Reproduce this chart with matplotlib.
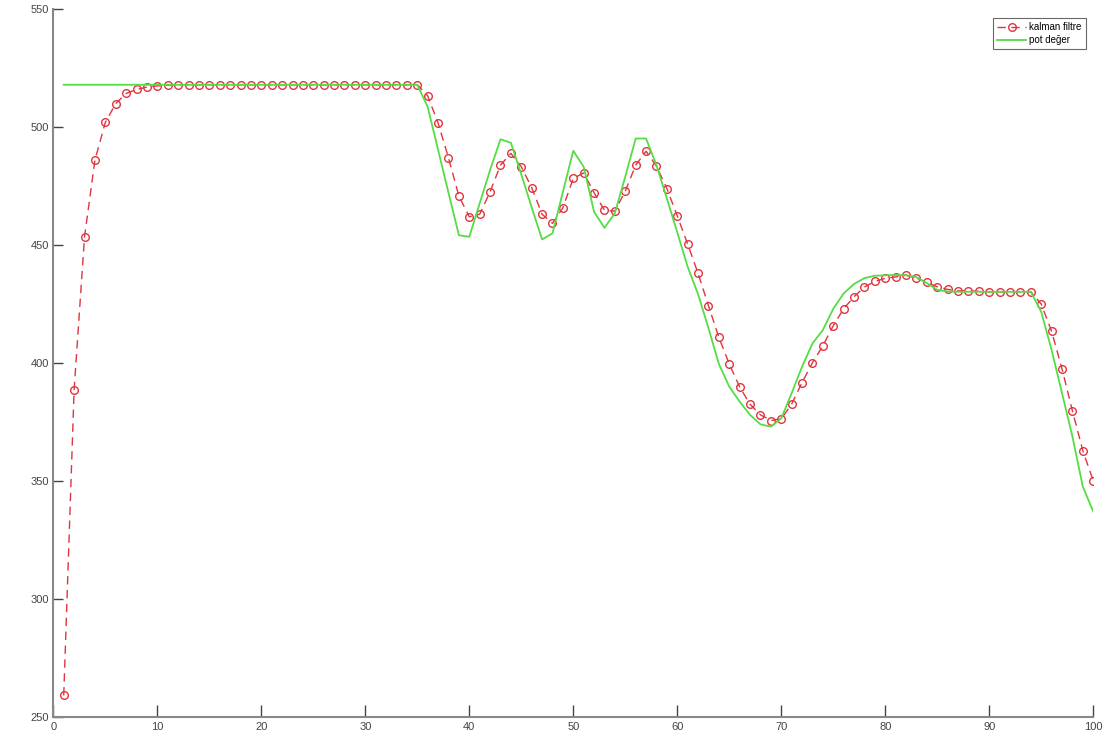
import matplotlib
matplotlib.use("Agg")
import matplotlib.pyplot as plt
import numpy as np

plt.rcParams['font.family'] = ['Liberation Sans', 'DejaVu Sans']

x_vals = list(range(1, 101))

kalman_filtre = [
    259.0, 388.6, 453.5, 486.0, 502.0, 510.0, 514.3, 516.0, 517.0, 517.5,
    517.8, 518.0, 518.0, 518.0, 518.0, 518.0, 518.0, 518.0, 518.0, 518.0,
    518.0, 518.0, 518.0, 518.0, 518.0, 518.0, 518.0, 518.0, 518.0, 518.0,
    518.0, 518.0, 518.0, 518.0, 518.0, 513.3, 501.8, 487.0, 470.8, 462.0,
    463.1, 472.6, 483.9, 488.9, 483.2, 474.4, 463.1, 459.2, 465.8, 478.3,
    480.6, 472.2, 464.8, 464.4, 472.9, 483.9, 489.8, 483.5, 474.0, 462.4,
    450.4, 438.0, 424.3, 410.9, 399.6, 389.8, 382.5, 378.0, 375.6, 376.3,
    382.6, 391.7, 400.1, 407.3, 415.8, 423.0, 428.1, 432.2, 434.6, 435.9,
    436.5, 437.2, 436.0, 434.2, 432.3, 431.2, 430.6, 430.6, 430.4, 430.2,
    430.2, 430.2, 430.2, 430.2, 425.0, 413.4, 397.5, 379.7, 362.8, 350.1,
]

pot_deger = [
    518.0, 518.0, 518.0, 518.0, 518.0, 518.0, 518.0, 518.0, 518.0, 518.0,
    518.0, 518.0, 518.0, 518.0, 518.0, 518.0, 518.0, 518.0, 518.0, 518.0,
    518.0, 518.0, 518.0, 518.0, 518.0, 518.0, 518.0, 518.0, 518.0, 518.0,
    518.0, 518.0, 518.0, 518.0, 518.0, 508.6, 490.4, 472.2, 454.2, 453.5,
    467.7, 481.8, 494.9, 493.4, 480.0, 466.0, 452.4, 455.0, 472.5, 490.0,
    483.2, 464.1, 457.3, 463.6, 479.0, 495.2, 495.2, 483.9, 469.8, 455.4,
    440.8, 429.2, 414.8, 399.6, 390.0, 383.6, 378.0, 374.0, 373.0, 376.5,
    387.2, 398.4, 408.3, 414.0, 423.0, 429.5, 433.5, 436.0, 437.0, 437.2,
    437.3, 437.3, 436.4, 433.9, 431.0, 430.3, 430.2, 430.2, 430.2, 430.2,
    430.2, 430.2, 430.2, 430.2, 421.7, 405.5, 387.2, 368.8, 347.6, 337.0,
]

x_ticks = [0, 10, 20, 30, 40, 50, 60, 70, 80, 90, 100]
y_ticks = [250, 300, 350, 400, 450, 500, 550]

fig = plt.figure(figsize=(11.11, 7.5), dpi=100)
ax = fig.add_axes([0.048, 0.0444, 0.936, 0.9432])

red = '#e0343f'
green = '#55dd44'

ax.plot(x_vals, kalman_filtre, linestyle=(0, (6, 4)), color=red, linewidth=1.0,
        marker='o', markersize=5.5, markerfacecolor='none', markeredgecolor=red,
        markeredgewidth=1.0, label='kalman filtre')
ax.plot(x_vals, pot_deger, linestyle='-', color=green, linewidth=1.3, label='pot değer')

ax.set_xlim(0, 100)
ax.set_ylim(250, 550)
ax.set_xticks(x_ticks)
ax.set_yticks(y_ticks)

for s in ['top', 'right']:
    ax.spines[s].set_visible(False)
for s in ['left', 'bottom']:
    ax.spines[s].set_color('#888888')
    ax.spines[s].set_linewidth(1.5)

ax.tick_params(axis='both', direction='in', colors='#444444', labelcolor='#444444',
               labelsize=8)
ax.tick_params(axis='y', length=7, width=1.0, pad=3)
ax.tick_params(axis='x', length=9, width=1.0, pad=4)

leg = ax.legend(loc='upper right', bbox_to_anchor=(0.9927, 0.9873), borderaxespad=0,
                fontsize=7, frameon=True, fancybox=False, handlelength=3.0,
                handletextpad=0.3, borderpad=0.4, labelspacing=0.3)
leg.get_frame().set_edgecolor('#444444')
leg.get_frame().set_linewidth(0.8)

fig.savefig('out.png', dpi=100)
